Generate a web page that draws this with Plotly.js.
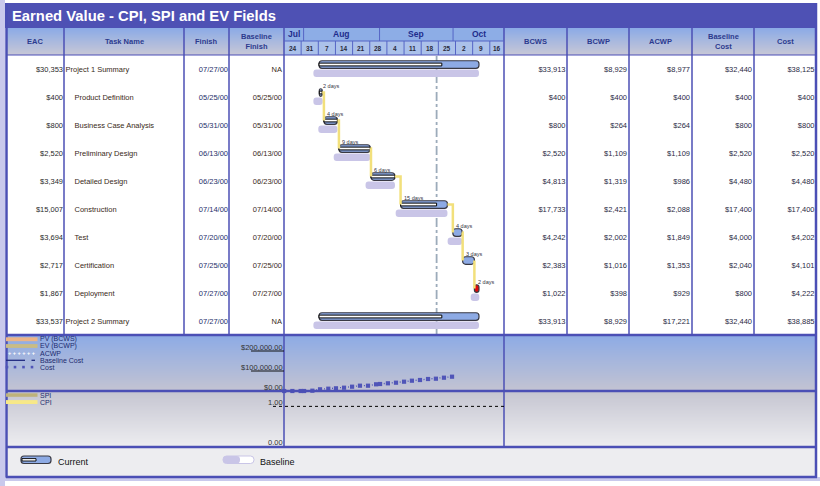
<!DOCTYPE html>
<html><head><meta charset="utf-8">
<script src="https://cdn.plot.ly/plotly-3.0.1.min.js"></script>
<style>html,body{margin:0;padding:0;background:#fff}#chart{width:820px;height:486px}</style>
</head><body><div id="chart"></div>
<script>
// ---------------- DATA ----------------
const chartTitle = 'Earned Value - CPI, SPI and EV Fields';
const headerLabels = ['EAC','Task Name','Finish','Baseline<br>Finish','BCWS','BCWP','ACWP','Baseline<br>Cost','Cost'];
const taskNames = ['Project 1 Summary','Product Definition','Business Case Analysis','Preliminary Design','Detailed Design','Construction','Test','Certification','Deployment','Project 2 Summary'];
const isSummary = [true,false,false,false,false,false,false,false,false,true];
const eac = ['$30,353','$400','$800','$2,520','$3,349','$15,007','$3,694','$2,717','$1,867','$33,537'];
const finish = ['07/27/00','05/25/00','05/31/00','06/13/00','06/23/00','07/14/00','07/20/00','07/25/00','07/27/00','07/27/00'];
const baselineFinish = ['NA','05/25/00','05/31/00','06/13/00','06/23/00','07/14/00','07/20/00','07/25/00','07/27/00','NA'];
const bcws = ['$33,913','$400','$800','$2,520','$4,813','$17,733','$4,242','$2,383','$1,022','$33,913'];
const bcwp = ['$8,929','$400','$264','$1,109','$1,319','$2,421','$2,002','$1,016','$398','$8,929'];
const acwp = ['$8,977','$400','$264','$1,109','$986','$2,088','$1,849','$1,353','$929','$17,221'];
const baselineCost = ['$32,440','$400','$800','$2,520','$4,480','$17,400','$4,000','$2,040','$800','$32,440'];
const cost = ['$38,125','$400','$800','$2,520','$4,480','$17,400','$4,202','$4,101','$4,222','$38,885'];

// Gantt (as drawn on the timescale)
const curStart = ['2000-08-07 07:00','2000-08-07 10:00','2000-08-09 07:00','2000-08-15 10:00','2000-08-28 12:00','2000-09-09 14:00','2000-09-30 22:00','2000-10-04 22:00','2000-10-09 17:00','2000-08-07 07:00'];
const curFinish = ['2000-10-11 14:00','2000-08-08 14:00','2000-08-14 19:00','2000-08-28 05:00','2000-09-07 07:00','2000-09-28 17:00','2000-10-04 17:00','2000-10-09 17:00','2000-10-11 14:00','2000-10-11 14:00'];
const progressFinish = ['2000-09-26 10:00','2000-08-08 14:00','2000-08-14 19:00','2000-08-28 05:00','2000-09-07 07:00','2000-09-24 07:00',null,null,null,'2000-09-26 10:00'];
const baseStart = ['2000-08-05 00:00','2000-08-05 00:00','2000-08-07 00:00','2000-08-13 07:00','2000-08-26 07:00','2000-09-07 14:00','2000-09-28 19:00',null,'2000-10-08 05:00','2000-08-05 00:00'];
const baseFinish = ['2000-10-11 14:00','2000-08-08 19:00','2000-08-14 19:00','2000-08-28 05:00','2000-09-07 07:00','2000-09-28 17:00','2000-10-04 17:00',null,'2000-10-11 17:00','2000-10-11 14:00'];
const durationLabels = [null,'2 days','4 days','9 days','6 days','15 days','4 days','3 days','2 days',null];
const isCritical = [false,false,false,false,false,false,false,false,true,false];
const statusDate = '2000-09-24 07:00';

// Timescale
const timeStart = '2000-07-24 00:00';
const timeEnd = '2000-10-21 19:06';
const monthStarts = ['2000-07-24','2000-08-01','2000-09-01','2000-10-01'];
const monthLabels = ['Jul','Aug','Sep','Oct'];
const weekStarts = ['2000-07-24','2000-07-31','2000-08-07','2000-08-14','2000-08-21','2000-08-28','2000-09-04','2000-09-11','2000-09-18','2000-09-25','2000-10-02','2000-10-09','2000-10-16'];
const weekLabels = ['24','31','7','14','21','28','4','11','18','25','2','9','16'];

// Earned value graph (cumulative cost)
const costDates = ['2000-07-24 02:00','2000-07-27 10:00','2000-07-30 19:00','2000-08-01 05:00','2000-08-04 14:00','2000-08-07 17:00','2000-08-11 02:00','2000-08-14 05:00','2000-08-17 12:00','2000-08-20 19:00','2000-08-24 00:00','2000-08-27 07:00','2000-08-30 14:00','2000-09-01 05:00','2000-09-04 10:00','2000-09-07 17:00','2000-09-11 00:00','2000-09-14 05:00','2000-09-17 12:00','2000-09-20 19:00','2000-09-24 00:00','2000-09-27 07:00','2000-09-30 14:00'];
const costValues = [0,0,0,0,1500,8500,11500,13500,16500,21500,26500,26500,33500,35000,38500,41500,46500,51500,55000,60000,61500,66500,71500];
const evLegendLabels = ['PV (BCWS)','EV (BCWP)','ACWP','Baseline Cost','Cost'];
const evTickVals = [0,100000,200000];
const evTickText = ['$0.00','$100,000.00','$200,000.00'];
const indexLegendLabels = ['SPI','CPI'];
const indexTickVals = [0,1];
const indexTickText = ['0.00','1.00'];
const indexReference = 1;
const barLegendLabels = ['Current','Baseline'];

// ---------------- LAYOUT HELPERS ----------------
const W = 820, H = 486;
const X = p => p / W, Y = p => 1 - p / H;
const FONT = 'Liberation Sans, Arial, sans-serif';
const NAVY = '#4B4FB5';
const shapes = [], annotations = [];
const toMs = s => Date.parse(s.replace(' ', 'T') + (s.length > 10 ? ':00Z' : 'T00:00:00Z'));
const msToStr = m => new Date(m).toISOString().replace('T', ' ').slice(0, 19);

function hex2rgb(h){return [1,3,5].map(i=>parseInt(h.substr(i,2),16));}
function mix(a,b,t){const A=hex2rgb(a),B=hex2rgb(b);return 'rgb('+A.map((v,i)=>Math.round(v+(B[i]-v)*t)).join(',')+')';}
function rect(x0,y0,x1,y1,fill,layer){shapes.push({type:'rect',xref:'paper',yref:'paper',x0:X(x0),x1:X(x1),y0:Y(y1),y1:Y(y0),fillcolor:fill,line:{width:0},layer:layer||'below'});}
function grad(x0,y0,x1,y1,c0,c1){const n=Math.round(y1-y0);for(let i=0;i<n;i++){rect(x0,y0+i,x1,Math.min(y1,y0+i+1.3),mix(c0,c1,n>1?i/(n-1):0));}}
function hline(x0,x1,y,color,w,dash){shapes.push({type:'line',xref:'paper',yref:'paper',x0:X(x0),x1:X(x1),y0:Y(y),y1:Y(y),line:{color:color,width:w,dash:dash||'solid'},layer:'above'});}
function vline(x,y0,y1,color,w){shapes.push({type:'line',xref:'paper',yref:'paper',x0:X(x),x1:X(x),y0:Y(y0),y1:Y(y1),line:{color:color,width:w},layer:'above'});}
function rrect(x0,y0,x1,y1,r,fill,lc,lw){
  const P=(x,y)=>X(x).toFixed(6)+','+Y(y).toFixed(6);
  const d='M'+P(x0+r,y0)+' L'+P(x1-r,y0)+' Q'+P(x1,y0)+' '+P(x1,y0+r)+' L'+P(x1,y1-r)+' Q'+P(x1,y1)+' '+P(x1-r,y1)+' L'+P(x0+r,y1)+' Q'+P(x0,y1)+' '+P(x0,y1-r)+' L'+P(x0,y0+r)+' Q'+P(x0,y0)+' '+P(x0+r,y0)+' Z';
  shapes.push({type:'path',xref:'paper',yref:'paper',path:d,fillcolor:fill,line:{color:lc||fill,width:lw||0},layer:'above'});
}
function ptext(x,y,text,size,color,xanchor,bold){annotations.push({xref:'paper',yref:'paper',x:X(x),y:Y(y),text:bold?'<b>'+text+'</b>':text,showarrow:false,xanchor:xanchor||'center',yanchor:'middle',font:{family:FONT,size:size,color:color},borderpad:0});}

// ---------------- BACKGROUNDS / FRAME ----------------
rect(0,0,5,486,'#C9C9EC');
rect(0,477,820,481,'#C9C9EC');
rect(5,3,817,28,'#4E51B4');
grad(6,28,816,55,'#8CABE6','#C7C7D6');
rect(284,28,504,41,'#8DADE6');
rect(284,41,504,55,'#ABC1EA');
rect(6,55,816,335,'#FFFFFF');
grad(6,335,816,391,'#8DABE5','#C3C3D2');
grad(6,391,816,447,'#C5C5D1','#EDEDF0');
rect(6,447,816,477,'#EDEDF0');

const colEdges = [64,184,229,284,504,567,629,692,754];
colEdges.forEach(x=>vline(x,28,335,NAVY,1.5));
vline(284,335,447,NAVY,1.5); vline(504,335,447,NAVY,1.5);
hline(284,504,41,'#5565C5',1);
hline(6,816,55,NAVY,1.2);
hline(6,816,335,NAVY,2.5);
hline(6,816,391,NAVY,2.5);
hline(6,816,447,NAVY,2.5);
vline(6.5,3,477.5,NAVY,2.5); vline(816,3,477.5,NAVY,2.5);
hline(6,817,477,NAVY,2.5);

annotations.push({xref:'paper',yref:'paper',x:X(9.5),y:Y(16),text:'<b>'+chartTitle+'</b>',showarrow:false,xanchor:'left',yanchor:'middle',font:{family:FONT,size:14.8,color:'#FFFFFF'}});

const headerCols = [[6,64],[64,184],[184,229],[229,284],[504,567],[567,629],[629,692],[692,754],[754,816]];
headerLabels.forEach((t,i)=>{
  const c = headerCols[i];
  annotations.push({xref:'paper',yref:'paper',x:X((c[0]+c[1])/2),y:Y(41.5),text:'<b>'+t+'</b>',showarrow:false,xanchor:'center',yanchor:'middle',font:{family:FONT,size:7.5,color:'#2C3A8E'}});
});

const endMs = toMs(timeEnd);
monthStarts.forEach((s,i)=>{
  const a = toMs(s), b = i+1<monthStarts.length ? toMs(monthStarts[i+1]) : endMs;
  annotations.push({xref:'x',yref:'paper',x:msToStr((a+b)/2),y:Y(34.5),text:'<b>'+monthLabels[i]+'</b>',showarrow:false,xanchor:'center',yanchor:'middle',font:{family:FONT,size:8.5,color:'#1E2C8C'}});
  if(i>0) shapes.push({type:'line',xref:'x',yref:'paper',x0:s,x1:s,y0:Y(41),y1:Y(28),line:{color:'#5565C5',width:1},layer:'above'});
});
weekStarts.forEach((s,i)=>{
  const a = toMs(s), b = Math.min(a+7*864e5, endMs);
  annotations.push({xref:'x',yref:'paper',x:msToStr((a+b)/2),y:Y(48.5),text:'<b>'+weekLabels[i]+'</b>',showarrow:false,xanchor:'center',yanchor:'middle',font:{family:FONT,size:6.5,color:'#2A2A3A'}});
  if(i>0) shapes.push({type:'line',xref:'x',yref:'paper',x0:s,x1:s,y0:Y(55),y1:Y(41),line:{color:'#5565C5',width:1},layer:'above'});
});

shapes.push({type:'line',xref:'x',yref:'paper',x0:statusDate,x1:statusDate,y0:Y(335),y1:Y(55),line:{color:'#9CABBA',width:1.8,dash:'dashdot'},layer:'below'});

// ---------------- TRACES ----------------
const traces = [];
const rows = taskNames.map((_,i)=>i);
const CUR_OFF = -0.16, BASE_OFF = 0.15, TXT_OFF = 0.055;

const bIdx = rows.filter(i=>baseStart[i]);
traces.push({type:'bar',orientation:'h',xaxis:'x',yaxis:'y',
  y:bIdx.map(i=>i+BASE_OFF), base:bIdx.map(i=>baseStart[i]),
  x:bIdx.map(i=>toMs(baseFinish[i])-toMs(baseStart[i])),
  width:0.27, marker:{color:'#C9C5E7',line:{width:0},cornerradius:4},hoverinfo:'skip',showlegend:false});

for(let i=1;i<8;i++){
  traces.push({type:'scatter',mode:'lines',xaxis:'x',yaxis:'y',
    x:[curFinish[i],curStart[i+1],curStart[i+1]],
    y:[i+CUR_OFF,i+CUR_OFF,i+1+CUR_OFF],
    line:{color:'#F2E07C',width:2.5},hoverinfo:'skip',showlegend:false});
}

traces.push({type:'bar',orientation:'h',xaxis:'x',yaxis:'y',
  y:rows.map(i=>i+CUR_OFF), base:curStart,
  x:rows.map(i=>toMs(curFinish[i])-toMs(curStart[i])),
  width:0.27, marker:{color:rows.map(i=>isCritical[i]?'#E00A0A':'#8DAAE4'),line:{color:'#3A3A44',width:1.2},cornerradius:3},
  hoverinfo:'skip',showlegend:false});

const pIdx = rows.filter(i=>progressFinish[i]);
traces.push({type:'bar',orientation:'h',xaxis:'x',yaxis:'y',
  y:pIdx.map(i=>i+CUR_OFF), base:pIdx.map(i=>curStart[i]),
  x:pIdx.map(i=>toMs(progressFinish[i])-toMs(curStart[i])),
  width:0.1, marker:{color:'#FFFFFF',line:{color:'#000000',width:1}},hoverinfo:'skip',showlegend:false});

// duration labels (anchored to bar start/top through the axes)
rows.filter(i=>durationLabels[i]).forEach(i=>{
  annotations.push({xref:'x',yref:'y',x:curStart[i],y:i+CUR_OFF-0.135,text:durationLabels[i],showarrow:false,
    xanchor:'left',yanchor:'bottom',xshift:2.5,yshift:-1,borderpad:0,font:{family:FONT,size:5.5,color:'#333344'}});
});

function colTrace(xs, texts, pos, color){
  return {type:'scatter',mode:'text',xaxis:'x2',yaxis:'y',x:xs,y:rows.map(i=>i+TXT_OFF),text:texts,textposition:pos,
    textfont:{family:FONT,size:7.5,color:color},cliponaxis:false,hoverinfo:'skip',showlegend:false};
}
const same = v => rows.map(()=>v);
traces.push(colTrace(same(63),eac,'middle left','#2A2A2A'));
traces.push(colTrace(rows.map(i=>isSummary[i]?65.5:74.5),taskNames,'middle right','#3A2A20'));
traces.push(colTrace(same(228),finish,'middle left','#26306A'));
traces.push(colTrace(same(282),baselineFinish,'middle left','#3A2A20'));
traces.push(colTrace(same(565.5),bcws,'middle left','#2A2A44'));
traces.push(colTrace(same(627),bcwp,'middle left','#2A2A44'));
traces.push(colTrace(same(690),acwp,'middle left','#2A2A44'));
traces.push(colTrace(same(752),baselineCost,'middle left','#2A2A44'));
traces.push(colTrace(same(814.5),cost,'middle left','#2A2A44'));

traces.push({type:'scatter',mode:'lines+markers',xaxis:'x',yaxis:'y2',x:costDates,y:costValues,
  line:{color:'#5055B8',width:1.3,dash:'1px,3px'},marker:{symbol:'square',size:4.2,color:'#5055B8'},
  cliponaxis:false,hoverinfo:'skip',showlegend:false});

evTickVals.forEach((v,i)=>{
  annotations.push({xref:'paper',yref:'y2',x:X(284),y:v,text:evTickText[i],showarrow:false,xanchor:'right',yanchor:'bottom',yshift:-1.5,font:{family:FONT,size:7.5,color:'#333333'},borderpad:0});
  if(v>0) shapes.push({type:'line',xref:'paper',yref:'y2',x0:X(251),x1:X(284),y0:v,y1:v,line:{color:'#111111',width:1},layer:'above'});
});
indexTickVals.forEach((v,i)=>{
  annotations.push({xref:'paper',yref:'y3',x:X(284),y:v,text:indexTickText[i],showarrow:false,xanchor:'right',yanchor:'bottom',yshift:-2,font:{family:FONT,size:7.5,color:'#333333'},borderpad:0});
});
shapes.push({type:'line',xref:'paper',yref:'y3',x0:X(273),x1:X(504),y0:indexReference,y1:indexReference,line:{color:'#000000',width:1,dash:'3px,3px'},layer:'above'});

const evLegY = [339.3,346,353,360,367];
rect(6,337.3,37.5,341.2,'#ECB487','above');
rect(6,344.1,37.5,347.9,'#C9BC85','above');
annotations.push({xref:'paper',yref:'paper',x:X(6),y:Y(353.3),text:'<b>+ + + + + +</b>',showarrow:false,xanchor:'left',yanchor:'middle',font:{family:FONT,size:5.5,color:'#FFFFFF'}});
hline(6,25,360.3,'#1F2A7E',1.3); hline(31.5,35,360.3,'#1F2A7E',1.3);
[7,15,23.5,32].forEach(x=>rect(x-1.3,365.8,x+1.3,368.4,'#5055B8','above'));
evLegendLabels.forEach((t,i)=>ptext(38.5,evLegY[i],t,7,'#1D2B6E','left'));
rect(6,393.3,37.5,396.8,'#BEB27B','above');
rect(6,400.1,37.5,404,'#F7E888','above');
const idxLegY = [395,402.2];
indexLegendLabels.forEach((t,i)=>ptext(38.5,idxLegY[i],t,7,'#1D2B6E','left'));

rrect(21,456,51,463.5,3,'#8DAAE4','#3A3A44',1.2);
shapes.push({type:'rect',xref:'paper',yref:'paper',x0:X(22),x1:X(36),y0:Y(461),y1:Y(458.6),fillcolor:'#FFFFFF',line:{color:'#000',width:0.9},layer:'above'});
rrect(223,456,254,463.5,3.5,'#FFFFFF','#C9C5E7',1);
rrect(223,456,240,463.5,3.5,'#C9C5E7','#C9C5E7',0);
ptext(57,461.5,barLegendLabels[0],9,'#111111','left');
ptext(259,461.5,barLegendLabels[1],9,'#111111','left');

// ---------------- LAYOUT ----------------
const layout = {
  width:W, height:H, margin:{l:0,r:0,t:0,b:0},
  paper_bgcolor:'#FFFFFF', plot_bgcolor:'rgba(0,0,0,0)',
  showlegend:false, barmode:'overlay',
  xaxis:{type:'date',domain:[X(284),X(504)],range:[timeStart,timeEnd],visible:false,fixedrange:true,anchor:'y'},
  xaxis2:{type:'linear',domain:[0,1],range:[0,W],visible:false,fixedrange:true,anchor:'y'},
  yaxis:{domain:[Y(335),Y(55)],range:[9.5,-0.5],visible:false,fixedrange:true,anchor:'x'},
  yaxis2:{domain:[Y(391),Y(335)],range:[0,280000],visible:false,fixedrange:true,anchor:'x'},
  yaxis3:{domain:[Y(446.5),Y(391)],range:[-0.0125,1.3875],visible:false,fixedrange:true,anchor:'x'},
  shapes:shapes, annotations:annotations,
  font:{family:FONT}
};
Plotly.newPlot('chart', traces, layout, {staticPlot:true, displayModeBar:false});
</script></body></html>
